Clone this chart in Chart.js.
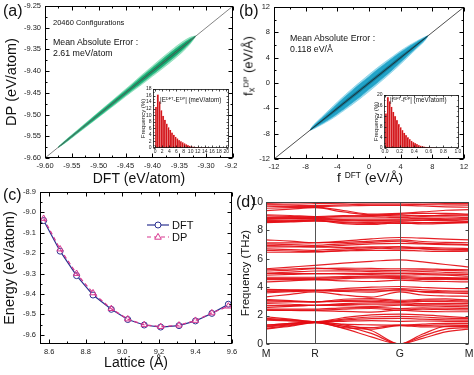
<!DOCTYPE html>
<html><head><meta charset="utf-8">
<script src="https://cdn.jsdelivr.net/npm/chart.js@4.4.1/dist/chart.umd.min.js"></script>
<style>
html,body{margin:0;padding:0;background:#fff;}
#wrap{position:relative;width:474px;height:375px;overflow:hidden;font-family:"Liberation Sans",Arial,sans-serif;color:#111;}
canvas{position:absolute;}
.t{position:absolute;white-space:nowrap;line-height:1;}
.t sup{font-size:62%;vertical-align:0.55em;line-height:0;}
.t sub{font-size:70%;vertical-align:-0.25em;line-height:0;}
</style></head><body><div id="wrap">
<canvas id="ca" style="left:0;top:0" width="237" height="190"></canvas>
<canvas id="cb" style="left:237px;top:0" width="237" height="190"></canvas>
<canvas id="cc" style="left:0;top:185px" width="237" height="190"></canvas>
<canvas id="cd" style="left:237px;top:185px" width="237" height="190"></canvas>
<canvas id="ia" style="left:134px;top:84px" width="100" height="74"></canvas>
<canvas id="ib" style="left:364px;top:88px" width="100" height="70"></canvas>
<div class="t" style="left:3px;top:3px;font-size:16px">(a)</div>
<div class="t" style="left:239px;top:3px;font-size:16px">(b)</div>
<div class="t" style="left:3px;top:187px;font-size:16px">(c)</div>
<div class="t" style="left:236px;top:194px;font-size:16px">(d)</div>
<div class="t" style="left:53px;top:18.5px;font-size:7.5px">20460 Configurations</div>
<div class="t" style="left:53px;top:38px;font-size:8.8px">Mean Absolute Error :</div>
<div class="t" style="left:53px;top:48.5px;font-size:8.8px">2.61 meV/atom</div>
<div class="t" style="left:290px;top:34px;font-size:8.8px">Mean Absolute Error :</div>
<div class="t" style="left:290px;top:44.5px;font-size:8.8px">0.118 eV/Å</div>
<div class="t" style="left:160px;top:97px;font-size:6.3px">|E<sup>DFT</sup>-E<sup>DP</sup>| (meV/atom)</div>
<div class="t" style="left:390px;top:97px;font-size:6.3px">|f<sup>DFT</sup>-f<sup>DP</sup>| (meV/atom)</div>
<div class="t" style="left:248px;top:66px;font-size:13px;transform:translate(-50%,-50%) rotate(-90deg)">f<sub>x</sub><sup>DP</sup> (eV/Å)</div>
<div class="t" style="left:370px;top:178px;font-size:13.5px;transform:translate(-50%,-50%)">f <sup>DFT</sup> (eV/Å)</div>
</div>
<script>
// ---------- data ----------
const aTicks = [-9.60,-9.55,-9.50,-9.45,-9.40,-9.35,-9.30,-9.25];
const aDiag = [-9.60,-9.25];
const aCloudX = [-9.575,-9.56,-9.54,-9.52,-9.50,-9.48,-9.46,-9.44,-9.42,-9.40,-9.38,-9.36,-9.345,-9.33,-9.32];
const aOutHi  = [-9.574,-9.557,-9.536,-9.515,-9.494,-9.473,-9.452,-9.431,-9.409,-9.388,-9.367,-9.347,-9.333,-9.322,-9.319];
const aOutLo  = [-9.576,-9.563,-9.544,-9.525,-9.506,-9.487,-9.468,-9.449,-9.431,-9.412,-9.393,-9.373,-9.357,-9.338,-9.321];
const aMidHi  = [-9.5745,-9.558,-9.5375,-9.5165,-9.4955,-9.475,-9.4545,-9.434,-9.4125,-9.392,-9.3715,-9.3515,-9.3375,-9.3255,-9.3195];
const aMidLo  = [-9.5755,-9.562,-9.5425,-9.5235,-9.5045,-9.485,-9.4655,-9.446,-9.4275,-9.408,-9.3885,-9.3685,-9.3525,-9.3345,-9.3205];
const aCoreHi = [-9.575,-9.5597,-9.5395,-9.5193,-9.499,-9.4788,-9.4585,-9.4382,-9.4178,-9.3975,-9.377,-9.3568,-9.3422,-9.3285,-9.32];
const aCoreLo = [-9.575,-9.5603,-9.5405,-9.5207,-9.501,-9.4812,-9.4615,-9.4418,-9.4222,-9.4025,-9.383,-9.3632,-9.3478,-9.3315,-9.32];

const bTicks = [-12,-8,-4,0,4,8,12];
const bDiag = [-12,12];
const bCloudX = [-7.4,-7,-6,-5,-4,-3,-2,-1,0,1,2,3,4,5,6,7,7.4];
const bOutHi  = [-7.3,-6.6,-5.4,-4.2,-3.0,-1.85,-0.75,0.3,1.35,2.35,3.3,4.2,5.1,5.9,6.6,7.25,7.45];
const bOutLo  = [-7.45,-7.25,-6.6,-5.9,-5.1,-4.2,-3.3,-2.35,-1.35,-0.3,0.75,1.85,3.0,4.2,5.4,6.6,7.3];
const bMidHi  = [-7.33,-6.75,-5.6,-4.45,-3.3,-2.15,-1.05,0.0,1.0,2.05,3.0,3.95,4.85,5.7,6.45,7.15,7.42];
const bMidLo  = [-7.42,-7.15,-6.45,-5.7,-4.85,-3.95,-3.0,-2.05,-1.0,0.0,1.05,2.15,3.3,4.45,5.6,6.75,7.33];
const bCoreHi = [-7.37,-6.95,-5.9,-4.85,-3.8,-2.75,-1.75,-0.75,0.25,1.25,2.25,3.25,4.25,5.2,6.15,7.05,7.4];
const bCoreLo = [-7.4,-7.05,-6.15,-5.2,-4.25,-3.25,-2.25,-1.25,-0.25,0.75,1.75,2.75,3.8,4.85,5.9,6.95,7.37];

const insetAXTicks = [0,2,4,6,8,10,12,14,16,18,20];
const insetAYTicks = [0,2,4,6,8,10,12,14,16,18];
const errBinsA = [0.25,0.75,1.25,1.75,2.25,2.75,3.25,3.75,4.25,4.75,5.25,5.75,6.25,6.75,7.25,7.75,8.25,8.75,9.25,9.75,10.25,10.75,11.25,11.75,12.25,12.75,13.25,13.75,14.25,14.75];
const errFreqA = [12.5,16.3,14.2,11.5,9.8,8.6,7.4,6.3,5.5,4.7,4.0,3.4,2.9,2.4,2.0,1.7,1.4,1.1,0.85,0.65,0.5,0.38,0.28,0.2,0.15,0.11,0.08,0.06,0.04,0.03];

const insetBXTicks = [0,0.2,0.4,0.6,0.8,1.0];
const insetBYTicks = [0,4,8,12,16,20];
const errBinsB = [0.0125,0.0375,0.0625,0.0875,0.1125,0.1375,0.1625,0.1875,0.2125,0.2375,0.2625,0.2875,0.3125,0.3375,0.3625,0.3875,0.4125,0.4375,0.4625,0.4875,0.5125,0.5375,0.5625,0.5875,0.6125,0.6375,0.6625,0.6875];
const errFreqB = [13,19.2,17.6,15.5,13.6,12.0,10.5,9.0,7.8,6.7,5.7,4.8,4.0,3.3,2.7,2.2,1.8,1.4,1.1,0.85,0.65,0.5,0.38,0.28,0.2,0.14,0.1,0.07];

const lattice = [8.57,8.66,8.75,8.84,8.94,9.03,9.12,9.21,9.31,9.40,9.49,9.58];
const eDFT = [-9.04,-9.19,-9.31,-9.405,-9.475,-9.525,-9.552,-9.562,-9.555,-9.532,-9.495,-9.45];
const eDP  = [-9.03,-9.18,-9.30,-9.395,-9.472,-9.523,-9.551,-9.560,-9.553,-9.530,-9.493,-9.46];
const cXTicks = [8.6,8.8,9.0,9.2,9.4,9.6];
const cYTicks = [-8.9,-9.0,-9.1,-9.2,-9.3,-9.4,-9.5,-9.6];

const kPath = [0,0.5,1,1.58,2.15,2.732,3.2,3.67,4.146];
const kLabels = ['M','R','G','M'];
const kLabelPos = [0,1,2.732,4.146];
const dYTicks = [0,2,4,6,8,10];
const bands = [
 [9.88,9.86,9.88,9.92,9.95,9.95,9.93,9.90,9.88],
 [9.80,9.78,9.75,9.80,9.85,9.85,9.82,9.80,9.78],
 [9.70,9.68,9.68,9.72,9.76,9.76,9.72,9.66,9.63],
 [9.56,9.60,9.64,9.40,9.15,9.20,9.30,9.42,9.46],
 [9.39,9.50,9.60,9.30,9.10,9.15,9.20,9.20,9.15],
 [9.10,9.05,8.98,9.05,9.00,9.10,9.00,9.10,9.10],
 [9.02,8.98,8.95,9.00,9.05,9.00,9.05,9.05,9.02],
 [8.90,8.92,8.90,8.95,8.95,8.90,8.95,8.95,8.90],
 [8.85,8.85,8.80,8.75,8.70,8.72,8.75,8.78,8.82],
 [8.78,8.82,8.85,8.80,8.80,8.80,8.85,8.82,8.78],
 [8.70,8.72,8.75,8.70,8.65,8.66,8.70,8.70,8.66],
 [8.62,8.68,8.72,8.55,8.50,8.60,8.55,8.58,8.60],
 [8.59,8.64,8.68,8.48,8.42,8.54,8.45,8.50,8.54],
 [8.55,8.60,8.65,8.60,8.55,8.50,8.52,8.55,8.58],
 [7.33,7.25,7.13,7.25,7.40,7.50,7.45,7.38,7.33],
 [7.13,7.12,7.13,7.15,7.25,7.33,7.22,7.16,7.13],
 [7.05,7.00,6.95,7.05,7.15,7.25,7.10,7.05,7.00],
 [6.95,6.90,6.84,6.95,7.05,7.08,7.05,7.00,6.96],
 [6.84,6.84,6.84,6.80,6.85,6.84,6.80,6.76,6.72],
 [6.70,6.65,6.60,6.70,6.78,6.70,6.72,6.68,6.66],
 [6.60,6.55,6.50,6.60,6.70,6.84,6.70,6.62,6.60],
 [6.46,6.46,6.48,6.55,6.60,6.60,6.55,6.52,6.53],
 [5.30,5.42,5.54,5.70,5.82,5.93,5.78,5.60,5.42],
 [5.23,5.28,5.35,5.25,5.20,5.18,5.22,5.18,5.14],
 [5.14,5.20,5.30,5.35,5.32,5.30,5.30,5.26,5.23],
 [5.00,5.06,5.14,5.15,5.10,5.07,5.10,5.05,5.00],
 [4.95,4.95,4.95,4.98,4.98,4.95,4.95,4.92,4.90],
 [4.84,4.90,4.95,4.92,4.88,4.84,4.88,4.85,4.77],
 [4.70,4.70,4.70,4.75,4.78,4.75,4.70,4.68,4.65],
 [4.62,4.62,4.62,4.68,4.72,4.68,4.62,4.62,4.60],
 [4.53,4.53,4.53,4.60,4.65,4.60,4.55,4.55,4.53],
 [4.37,4.45,4.53,4.45,4.40,4.50,4.42,4.40,4.37],
 [3.85,3.82,3.79,3.90,4.00,4.05,3.98,3.92,3.90],
 [3.79,3.78,3.77,3.80,3.85,3.90,3.82,3.75,3.72],
 [3.70,3.72,3.75,3.75,3.75,3.75,3.70,3.68,3.65],
 [3.60,3.68,3.75,3.70,3.65,3.83,3.65,3.60,3.55],
 [3.32,3.50,3.67,3.45,3.30,3.67,3.45,3.38,3.36],
 [3.13,3.05,2.97,3.15,3.20,3.08,3.15,3.18,3.08],
 [3.05,3.00,2.97,3.05,3.10,3.00,3.08,3.08,3.02],
 [2.95,2.96,2.97,3.00,3.00,2.95,3.00,2.98,2.95],
 [2.85,2.80,2.73,2.85,2.90,2.90,2.85,2.85,2.85],
 [2.70,2.70,2.73,2.78,2.80,2.80,2.75,2.75,2.72],
 [2.57,2.65,2.73,2.70,2.65,2.73,2.68,2.65,2.62],
 [2.45,2.45,2.45,2.55,2.58,2.50,2.55,2.52,2.50],
 [2.38,2.38,2.38,2.45,2.50,2.38,2.45,2.42,2.40],
 [2.38,2.36,2.35,2.30,2.25,2.38,2.30,2.27,2.27],
 [1.92,1.75,1.57,1.85,2.05,2.10,2.05,1.95,1.85],
 [1.80,1.70,1.57,1.75,1.90,1.95,1.90,1.82,1.78],
 [1.75,1.65,1.57,1.68,1.78,1.80,1.75,1.70,1.68],
 [1.68,1.62,1.57,1.60,1.65,1.60,1.62,1.60,1.57],
 [1.33,1.45,1.57,1.40,1.35,1.33,1.40,1.45,1.45],
 [1.25,1.40,1.55,1.25,1.15,1.33,1.30,1.35,1.33],
 [1.10,1.30,1.52,1.15,1.05,1.30,1.20,1.22,1.22],
 [1.33,1.45,1.55,1.35,0.95,0.00,0.70,1.25,1.30],
 [1.20,1.35,1.50,1.25,0.75,0.00,0.55,1.05,1.15],
 [1.05,1.25,1.50,1.10,0.50,0.00,0.40,0.85,1.05]
];

// ---------- helpers ----------
Chart.defaults.font.family = '"Liberation Sans", Arial, sans-serif';
const pts = (xs, ys) => xs.map((x, i) => ({x: x, y: ys[i]}));

const framePlugin = {
  id: 'frame',
  beforeDatasetsDraw(chart, args, o) {
    if (!o || !o.on || !o.bg) return;
    const a = chart.chartArea, ctx = chart.ctx;
    ctx.save(); ctx.fillStyle = o.bg; ctx.fillRect(a.left, a.top, a.right - a.left, a.bottom - a.top); ctx.restore();
  },
  afterDatasetsDraw(chart, args, o) {
    if (!o || !o.on) return;
    const ctx = chart.ctx, a = chart.chartArea;
    const L = Math.round(a.left) + 0.5, R = Math.round(a.right) - 0.5, T = Math.round(a.top) + 0.5, B = Math.round(a.bottom) - 0.5;
    ctx.save();
    ctx.lineWidth = o.lw || 1;
    if (o.vlines) {
      ctx.strokeStyle = o.vcolor || '#666';
      o.vlines.forEach(v => {
        const p = Math.round(chart.scales.x.getPixelForValue(v)) + 0.5;
        ctx.beginPath(); ctx.moveTo(p, T); ctx.lineTo(p, B); ctx.stroke();
      });
    }
    ctx.strokeStyle = o.color || '#000';
    ctx.strokeRect(L, T, R - L, B - T);
    const mark = (sc, horiz, len, vals) => {
      vals.forEach(v => {
        const p = Math.round(sc.getPixelForValue(v)) + 0.5;
        ctx.beginPath();
        if (horiz) {
          ctx.moveTo(p, B); ctx.lineTo(p, B - len);
          if (o.mirror) { ctx.moveTo(p, T); ctx.lineTo(p, T + len); }
        } else {
          ctx.moveTo(L, p); ctx.lineTo(L + len, p);
          if (o.mirror) { ctx.moveTo(R, p); ctx.lineTo(R - len, p); }
        }
        ctx.stroke();
      });
    };
    (o.axes || []).forEach(id => {
      const sc = chart.scales[id];
      const maj = sc.ticks.map(t => t.value);
      const len = o.len || 4;
      mark(sc, sc.isHorizontal(), len, maj);
      if (o.minor) {
        const mn = [];
        for (let i = 0; i < maj.length - 1; i++) mn.push((maj[i] + maj[i + 1]) / 2);
        mark(sc, sc.isHorizontal(), len / 2, mn);
      }
    });
    ctx.restore();
  }
};
Chart.register(framePlugin);

function axis(o) {
  const horiz = o.horiz;
  return {
    type: 'linear', min: o.min, max: o.max, offset: false,
    afterBuildTicks: s => { s.ticks = o.ticks.map(v => ({value: v})); },
    afterFit: s => {
      if (horiz) s.height = o.size; else s.width = o.size;
      s.paddingLeft = 0; s.paddingRight = 0; s.paddingTop = 0; s.paddingBottom = 0;
    },
    grid: {display: false, drawTicks: false},
    border: {display: false},
    ticks: {
      autoSkip: false, maxRotation: 0, minRotation: 0,
      padding: o.pad, color: '#222',
      font: {size: o.fs},
      callback: o.fmt
    },
    title: o.title ? {display: true, text: o.title, color: '#111', font: {size: o.tfs}, padding: o.tpad} : {display: false}
  };
}
function baseOpts(pad, x, y, frame) {
  return {
    responsive: false, animation: false, events: [],
    layout: {padding: {top: pad.top, right: pad.right, left: 0, bottom: 0}},
    plugins: {legend: {display: false}, tooltip: {enabled: false}, frame: frame},
    scales: {x: x, y: y}
  };
}
function envelope(xs, hi, lo, color, bw) {
  return [
    {data: pts(xs, hi), borderColor: color, borderWidth: bw, pointRadius: 0, fill: false, tension: 0.3},
    {data: pts(xs, lo), borderColor: color, borderWidth: bw, pointRadius: 0, fill: '-1', backgroundColor: color, tension: 0.3}
  ];
}

// ---------- (a) ----------
new Chart(document.getElementById('ca'), {
  type: 'line',
  data: {datasets: [
    {data: pts(aDiag, aDiag), borderColor: '#666', borderWidth: 0.8, pointRadius: 0, tension: 0}
  ].concat(envelope(aCloudX, aCoreHi, aCoreLo, '#0c8456', 0.6))
   .concat(envelope(aCloudX, aMidHi, aMidLo, '#22b47c', 0.6))
   .concat(envelope(aCloudX, aOutHi, aOutLo, 'rgba(100,210,162,0.6)', 0.8))},
  options: baseOpts({top: 6, right: 4},
    axis({horiz: true, min: -9.60, max: -9.25, ticks: aTicks, size: 32, pad: 3, fs: 7.5, fmt: v => v.toFixed(2), title: 'DFT (eV/atom)', tfs: 14, tpad: {top: 0, bottom: 2.6}}),
    axis({horiz: false, min: -9.60, max: -9.25, ticks: aTicks, size: 45, pad: 4, fs: 7.5, fmt: v => v.toFixed(2), title: 'DP (eV/atom)', tfs: 14.5, tpad: {top: 3.3, bottom: 0}}),
    {on: true, axes: ['x', 'y'], len: 4, minor: true, mirror: true, color: '#000'})
});

// ---------- (b) ----------
new Chart(document.getElementById('cb'), {
  type: 'line',
  data: {datasets: [
    {data: pts(bDiag, bDiag), borderColor: '#222', borderWidth: 0.8, pointRadius: 0, tension: 0}
  ].concat(envelope(bCloudX, bCoreHi, bCoreLo, '#127592', 0.6))
   .concat(envelope(bCloudX, bMidHi, bMidLo, '#21a3c8', 0.6))
   .concat(envelope(bCloudX, bOutHi, bOutLo, 'rgba(95,195,225,0.6)', 0.8))},
  options: baseOpts({top: 7, right: 10},
    axis({horiz: true, min: -12, max: 12, ticks: bTicks, size: 31, pad: 3, fs: 7.5, fmt: v => String(v)}),
    axis({horiz: false, min: -12, max: 12, ticks: bTicks, size: 37, pad: 4, fs: 7.5, fmt: v => String(v)}),
    {on: true, axes: ['x', 'y'], len: 4, minor: true, mirror: true, color: '#000'})
});

// ---------- insets ----------
function inset(id, bins, freq, xr, xt, xfmt, yr, yt, ywidth, tpad) {
  new Chart(document.getElementById(id), {
    type: 'bar',
    data: {datasets: [{data: pts(bins, freq), backgroundColor: '#d3161b', borderColor: 'rgba(250,190,190,0.9)', borderWidth: 0.4, barPercentage: 1, categoryPercentage: 1, grouped: false}]},
    options: baseOpts({top: id === 'ia' ? 5 : 7, right: 5},
      axis({horiz: true, min: xr[0], max: xr[1], ticks: xt, size: 10, pad: 1, fs: 5, fmt: xfmt}),
      axis({horiz: false, min: yr[0], max: yr[1], ticks: yt, size: ywidth, pad: 1.5, fs: 5, fmt: v => String(v), title: 'Frequency (%)', tfs: 6, tpad: {top: tpad, bottom: 0}}),
      {on: true, axes: ['x', 'y'], len: 2, minor: true, mirror: true, color: '#111', bg: '#fff', lw: 0.8})
  });
}
inset('ia', errBinsA, errFreqA, [-0.6, 20.8], insetAXTicks, v => String(v), [0, 18], insetAYTicks, 19, 6);
inset('ib', errBinsB, errFreqB, [-0.015, 1.015], insetBXTicks, v => v.toFixed(1), [0, 20], insetBYTicks, 20, 8.5);

// ---------- (c) ----------
const legendC = {
  id: 'legendC',
  afterDraw(chart) {
    const ctx = chart.ctx;
    const items = [{ds: 0, y: 40, label: 'DFT'}, {ds: 1, y: 52, label: 'DP'}];
    ctx.save();
    items.forEach(it => {
      const d = chart.data.datasets[it.ds];
      ctx.strokeStyle = d.borderColor; ctx.lineWidth = 1.2;
      ctx.setLineDash(d.borderDash || []);
      ctx.beginPath(); ctx.moveTo(147, it.y); ctx.lineTo(169, it.y); ctx.stroke();
      ctx.setLineDash([]);
      ctx.fillStyle = '#fff'; ctx.lineWidth = 1;
      ctx.beginPath();
      if (d.pointStyle === 'triangle') {
        ctx.moveTo(158, it.y - 3.6); ctx.lineTo(161.3, it.y + 2.2); ctx.lineTo(154.7, it.y + 2.2); ctx.closePath();
      } else {
        ctx.arc(158, it.y, 3, 0, Math.PI * 2);
      }
      ctx.fill(); ctx.stroke();
      ctx.fillStyle = '#111'; ctx.font = '11px "Liberation Sans", Arial, sans-serif';
      ctx.textBaseline = 'middle'; ctx.fillText(it.label, 172, it.y + 0.5);
    });
    ctx.restore();
  }
};
new Chart(document.getElementById('cc'), {
  type: 'line',
  data: {datasets: [
    {label: 'DFT', data: pts(lattice, eDFT), order: 1, borderColor: '#2b3190', borderWidth: 1.2, pointStyle: 'circle', pointRadius: 3, pointBorderWidth: 1, pointBackgroundColor: '#fff', pointBorderColor: '#2b3190', tension: 0},
    {label: 'DP', data: pts(lattice, eDP), order: 0, borderColor: '#d8378f', borderWidth: 1.2, borderDash: [4, 3], pointStyle: 'triangle', pointRadius: 3.6, pointBorderWidth: 1, pointBackgroundColor: 'rgba(255,255,255,0)', pointBorderColor: '#d8378f', tension: 0}
  ]},
  options: baseOpts({top: 7, right: 5},
    axis({horiz: true, min: 8.55, max: 9.6, ticks: cXTicks, size: 31, pad: 3, fs: 7.5, fmt: v => v.toFixed(1), title: 'Lattice (Å)', tfs: 14, tpad: {top: 0, bottom: 3.6}}),
    axis({horiz: false, min: -9.645, max: -8.9, ticks: cYTicks, size: 40, pad: 4, fs: 7.5, fmt: v => v.toFixed(1), title: 'Energy (eV/atom)', tfs: 14.5, tpad: {top: 1.3, bottom: 0}}),
    {on: true, axes: ['x', 'y'], len: 4, minor: true, mirror: true, color: '#000'}),
  plugins: [legendC]
});

// ---------- (d) ----------
new Chart(document.getElementById('cd'), {
  type: 'line',
  data: {datasets: bands.map(b => ({data: pts(kPath, b), borderColor: 'rgba(228,12,18,0.92)', borderWidth: 1.2, pointRadius: 0, cubicInterpolationMode: 'monotone', fill: false}))},
  options: baseOpts({top: 17, right: 5},
    axis({horiz: true, min: 0, max: 4.146, ticks: kLabelPos, size: 31, pad: 4, fs: 10.5, fmt: (v, i) => kLabels[i]}),
    axis({horiz: false, min: 0, max: 10, ticks: dYTicks, size: 29, pad: 3, fs: 10.5, fmt: v => String(v), title: 'Frequency (THz)', tfs: 11.5, tpad: {top: 2.1, bottom: 0}}),
    {on: true, axes: ['y'], len: 3, minor: false, mirror: true, color: '#444', vlines: [1, 2.732], vcolor: '#555'})
});
</script>
</body></html>
